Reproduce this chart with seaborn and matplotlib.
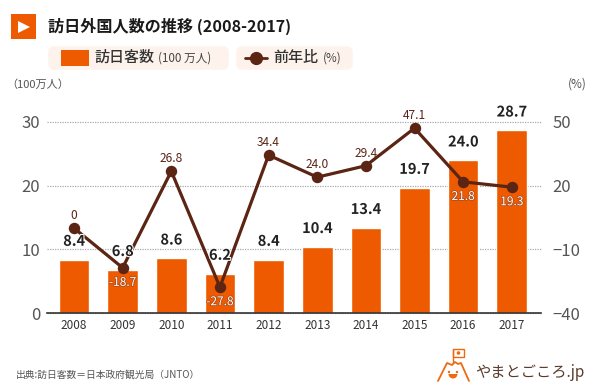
# visitors to Japan bar + line chart
import matplotlib
matplotlib.use("Agg")
import matplotlib.pyplot as plt
import matplotlib.patheffects as pe
from matplotlib.patches import FancyBboxPatch, Rectangle, Polygon, Circle, Wedge
import seaborn as sns

years = ["2008", "2009", "2010", "2011", "2012", "2013", "2014", "2015", "2016", "2017"]
visitors = [8.4, 6.8, 8.6, 6.2, 8.4, 10.4, 13.4, 19.7, 24.0, 28.7]
yoy = [0, -18.7, 26.8, -27.8, 34.4, 24.0, 29.4, 47.1, 21.8, 19.3]
yoy_labels = ["0", "-18.7", "26.8", "-27.8", "34.4", "24.0", "29.4", "47.1", "21.8", "19.3"]
left_ticks = [0, 10, 20, 30]
right_ticks = [-40, -10, 20, 50]

ORANGE = "#EE5A00"
LOGO = "#EE6A10"
BROWN = "#5B2413"
GREY = "#555555"

sns.set_style("white")
plt.rcParams["font.family"] = ["Noto Sans CJK JP", "DejaVu Sans"]

fig = plt.figure(figsize=(6, 3.91), dpi=100)
ax = fig.add_axes([47 / 600, 1 - 313 / 391, 494 / 600, 191 / 391])

# bars
sns.barplot(x=years, y=visitors, color=ORANGE, width=0.63, saturation=1, ax=ax)
ax.set_xlim(-0.555, 9.6)
ax.set_ylim(0, 30)
ax.set_yticks(left_ticks)
ax.grid(axis="y", color="#aaaaaa", linestyle=(0, (1, 1)), linewidth=0.9)
ax.set_axisbelow(True)
for g in ax.get_ygridlines():
    g.set_clip_on(False)
ax.grid(axis="x", visible=False)
ax.tick_params(axis="x", length=0, labelsize=8.5, labelcolor="#333333", pad=4)
ax.tick_params(axis="y", length=0, labelsize=12, labelcolor=GREY, pad=5)
sns.despine(ax=ax, left=True, right=True, top=True)
ax.spines["bottom"].set_color("#333333")
ax.spines["bottom"].set_linewidth(1.2)

# line on second axis
ax2 = ax.twinx()
sns.pointplot(x=years, y=yoy, color=BROWN, linewidth=2.3, markersize=6.5, ax=ax2, errorbar=None)
ax2.set_xlim(-0.555, 9.6)
ax2.set_ylim(-40, 50)
ax2.set_yticks(right_ticks)
ax2.set_ylabel("")
ax2.grid(False)
ax2.tick_params(axis="y", length=0, labelsize=12, labelcolor=GREY, pad=8)
sns.despine(ax=ax2, left=True, right=True, top=True, bottom=True)

# value labels
for i, v in enumerate(visitors):
    ax2.annotate(f"{v:.1f}", (i, v), xycoords=ax.transData, xytext=(0, 13.5),
                 textcoords="offset points", ha="center", va="center",
                 fontsize=10.5, fontweight="bold", color="#222222", zorder=6,
                 path_effects=[pe.withStroke(linewidth=1.5, foreground="white")])

for i, (v, s) in enumerate(zip(yoy, yoy_labels)):
    if s.startswith("-") or i >= 8:
        ax2.annotate(s, (i, v), xytext=(0, -10.5), textcoords="offset points",
                     ha="center", va="center", fontsize=8.6, color="white", zorder=6,
                     path_effects=[pe.withStroke(linewidth=1, foreground="#a04a20")])
    else:
        ax2.annotate(s, (i, v), xytext=(0, 9), textcoords="offset points",
                     ha="center", va="center", fontsize=8.6, color=BROWN, zorder=6)

# overlay in pixel coordinates for header, legend, footer, logo
ov = fig.add_axes([0, 0, 1, 1], zorder=10)
ov.set_xlim(0, 600)
ov.set_ylim(391, 0)
ov.axis("off")
ov.patch.set_alpha(0)

ov.add_patch(Rectangle((11, 14), 25, 25, color=ORANGE, lw=0))
ov.add_patch(Polygon([(18, 21), (18, 33), (30, 27)], color="white", lw=0))
ov.text(48, 26.5, "訪日外国人数の推移 (2008-2017)", fontsize=11.6, fontweight="bold",
        color="#1a1a1a", va="center")

for x0, w in [(48, 181), (236, 117)]:
    ov.add_patch(FancyBboxPatch((x0 + 3, 49), w - 6, 18, boxstyle="round,pad=0,rounding_size=3",
                                mutation_aspect=1, fc="#FDF3EC", ec="#FDF3EC", lw=4))
ov.add_patch(Rectangle((61, 50), 28, 15.5, color=ORANGE, lw=0))
ov.text(94, 57.5, "訪日客数", fontsize=10.8, fontweight="medium", color="#333333", va="center")
ov.text(158, 58, "(100 万人)", fontsize=8.4, color="#444444", va="center")
ov.plot([245, 267], [58, 58], color=BROWN, lw=2)
ov.plot([256], [58], "o", color=BROWN, ms=8.5)
ov.text(273, 57.5, "前年比", fontsize=10.8, fontweight="medium", color="#333333", va="center")
ov.text(323, 58, "(%)", fontsize=8.4, color="#444444", va="center")

ov.text(6, 85, "（100万人）", fontsize=8, color=GREY, va="center")
ov.text(568, 84, "(%)", fontsize=8.5, color=GREY, va="center")
ov.text(16, 374.5, "出典:訪日客数＝日本政府観光局（JNTO）", fontsize=7, color=GREY, va="center")

# logo
ov.plot([438, 447, 452, 455, 458, 461, 469], [381, 363, 365, 362, 364, 363, 381],
        color=LOGO, lw=1.3, solid_joinstyle="round")
ov.add_patch(Circle((449, 372), 1.2, color=LOGO, lw=0))
ov.add_patch(Circle((457, 372), 1.2, color=LOGO, lw=0))
ov.add_patch(Wedge((453, 374), 4.5, 0, 180, color=LOGO, lw=0))
ov.plot([453, 453], [349, 363], color=LOGO, lw=1)
ov.add_patch(Rectangle((453, 349), 11, 8, fc="white", ec=LOGO, lw=1))
ov.add_patch(Circle((458.5, 353), 1.8, color=LOGO, lw=0))
ov.text(475, 372.5, "やまとごころ.jp", fontsize=11, color="#5A3A2A", va="center")

fig.savefig("out.png", dpi=100, facecolor="white")
